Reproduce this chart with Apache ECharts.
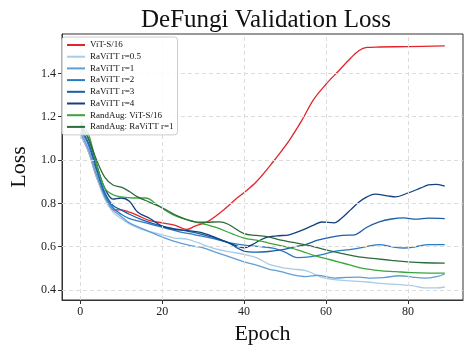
<!DOCTYPE html>
<html><head><meta charset="utf-8">
<script src="https://cdn.jsdelivr.net/npm/echarts@6/dist/echarts.min.js"></script>
<style>html,body{margin:0;padding:0;background:#fff}#c{width:474px;height:355px}</style>
</head><body><div id="c"></div>
<script>
const seriesNames = ['ViT-S/16','RaViTT r=0.5','RaViTT r=1','RaViTT r=2','RaViTT r=3','RaViTT r=4','RandAug: ViT-S/16','RandAug: RaViTT r=1'];
const xTicks = [0,20,40,60,80];
const yTicks = [0.4,0.6,0.8,1.0,1.2,1.4];

const vitEpochs = [0,2,4,6,8,10,12,14,17,20,23,26,28,31,35,38,40,43,47,51,54,57,60,63,66,68,70,73,80,89];
const vitLoss   = [1.12,1.04,0.92,0.83,0.77,0.77,0.76,0.745,0.72,0.71,0.70,0.68,0.695,0.715,0.77,0.82,0.85,0.90,0.99,1.09,1.18,1.28,1.35,1.41,1.47,1.505,1.52,1.522,1.524,1.527];

const r05Epochs = [0,2,4,6,8,10,12,15,18,20,23,26,30,33,37,40,43,46,49,52,55,57,59,62,66,70,74,78,81,84,87,89];
const r05Loss   = [1.12,1.04,0.92,0.82,0.76,0.73,0.705,0.68,0.665,0.655,0.64,0.635,0.61,0.59,0.575,0.565,0.55,0.52,0.505,0.497,0.49,0.475,0.458,0.448,0.442,0.437,0.43,0.425,0.42,0.41,0.41,0.414];

const r1Epochs = [0,2,4,6,8,10,12,15,18,20,23,27,30,33,37,40,43,46,49,52,55,58,62,65,68,71,74,78,81,84,87,89];
const r1Loss   = [1.13,1.05,0.93,0.83,0.77,0.74,0.71,0.685,0.66,0.645,0.625,0.605,0.595,0.575,0.55,0.53,0.515,0.497,0.485,0.47,0.462,0.468,0.455,0.458,0.46,0.455,0.457,0.466,0.46,0.455,0.462,0.474];

const r2Epochs = [0,2,4,6,8,10,12,15,18,21,24,28,32,36,40,44,47,50,53,56,59,62,65,68,71,73,76,79,82,85,89];
const r2Loss   = [1.14,1.07,0.95,0.84,0.78,0.75,0.73,0.715,0.70,0.685,0.67,0.655,0.64,0.62,0.607,0.60,0.594,0.575,0.55,0.553,0.563,0.578,0.585,0.593,0.605,0.61,0.60,0.594,0.60,0.61,0.61];

const r3Epochs = [0,2,4,6,8,10,12,15,18,21,24,28,32,36,40,43,46,49,52,55,58,61,64,67,70,73,76,79,82,85,89];
const r3Loss   = [1.15,1.08,0.96,0.85,0.79,0.77,0.75,0.725,0.705,0.69,0.68,0.665,0.645,0.62,0.58,0.575,0.578,0.585,0.598,0.61,0.63,0.643,0.652,0.655,0.69,0.715,0.728,0.733,0.727,0.732,0.73];

const r4Epochs = [0,2,4,6,8,10,12,14,17,20,23,26,30,34,38,40,42,45,48,51,54,57,59,62,64,66,68,70,72,75,77,80,83,85,87,89];
const r4Loss   = [1.16,1.10,0.98,0.87,0.82,0.825,0.81,0.76,0.73,0.695,0.68,0.675,0.663,0.635,0.605,0.595,0.61,0.64,0.65,0.655,0.675,0.70,0.714,0.71,0.735,0.77,0.805,0.83,0.843,0.835,0.83,0.848,0.87,0.885,0.888,0.88];

const raVitEpochs = [0,2,4,6,8,10,13,16,19,23,28,33,37,40,43,46,50,54,57,60,63,66,69,73,77,81,85,89];
const raVitLoss   = [1.18,1.12,0.98,0.87,0.84,0.83,0.825,0.825,0.79,0.745,0.715,0.69,0.66,0.64,0.63,0.617,0.60,0.58,0.56,0.545,0.53,0.515,0.50,0.49,0.485,0.48,0.478,0.478];

const raRavEpochs = [0,2,4,6,8,10,12,14,17,20,24,28,31,34,36,40,43,46,49,52,56,60,64,68,72,76,80,84,89];
const raRavLoss   = [1.17,1.10,1.00,0.92,0.885,0.875,0.855,0.83,0.805,0.78,0.74,0.715,0.713,0.715,0.705,0.66,0.652,0.645,0.63,0.62,0.605,0.585,0.568,0.553,0.545,0.537,0.53,0.526,0.524];

const allEpochs = [vitEpochs,r05Epochs,r1Epochs,r2Epochs,r3Epochs,r4Epochs,raVitEpochs,raRavEpochs];
const allLoss = [vitLoss,r05Loss,r1Loss,r2Loss,r3Loss,r4Loss,raVitLoss,raRavLoss];
const colors = ['#e3242b','#a8cbe6','#5f9ed6','#2b7bc0','#1d5ea8','#12417f','#3aa63a','#2f6b3c'];

const serif = '"Liberation Serif","DejaVu Serif",serif';
const chart = echarts.init(document.getElementById('c'), null, {renderer:'canvas'});

const series = seriesNames.map((n,i)=>({
  name:n, type:'line', smooth:0.35, symbol:'none', z:3,
  data: allEpochs[i].map((e,j)=>[e, allLoss[i][j]]),
  lineStyle:{color:colors[i], width:1.3}, itemStyle:{color:colors[i]}
}));
series.unshift({
  name:'grid', type:'line', data:[], z:1, silent:true,
  markLine:{silent:true, symbol:'none', label:{show:false}, animation:false,
    lineStyle:{type:[4,3], color:'#dcdcdc', width:1},
    data: xTicks.map(v=>({xAxis:v})).concat(yTicks.map(v=>({yAxis:v})))}
});

chart.setOption({
  animation:false,
  backgroundColor:'#fff',
  title:{text:'DeFungi Validation Loss', left:261, textAlign:'center', top:3,
    textStyle:{fontFamily:serif, fontSize:25, fontWeight:'normal', color:'#111'}},
  grid:{left:61, right:11, top:34, bottom:55, show:true, borderColor:'#333', borderWidth:1, backgroundColor:'transparent'},
  legend:{data:seriesNames, orient:'vertical', left:62, top:37, icon:'rect', itemWidth:18, itemHeight:2, itemGap:1.7,
    backgroundColor:'rgba(255,255,255,0.85)', borderColor:'#cccccc', borderWidth:1, borderRadius:3,
    padding:[3,4,3,5], z:10,
    textStyle:{fontFamily:serif, fontSize:9, color:'#111', lineHeight:10}},
  xAxis:{type:'value', min:-4.45, max:93.45, name:'Epoch', nameLocation:'middle', nameGap:22,
    nameTextStyle:{fontFamily:serif, fontSize:22, color:'#111'},
    axisLine:{show:true, onZero:false, lineStyle:{color:'#333'}},
    axisTick:{show:true, length:4, customValues:xTicks, lineStyle:{color:'#333'}},
    axisLabel:{customValues:xTicks, fontFamily:serif, fontSize:12, color:'#222', margin:6},
    splitLine:{show:false}},
  yAxis:{type:'value', min:0.354, max:1.582, name:'Loss', nameLocation:'middle', nameGap:32,
    nameTextStyle:{fontFamily:serif, fontSize:22, color:'#111'},
    axisLine:{show:true, onZero:false, lineStyle:{color:'#333'}},
    axisTick:{show:true, length:4, customValues:yTicks, lineStyle:{color:'#333'}},
    axisLabel:{customValues:yTicks, fontFamily:serif, fontSize:12, color:'#222', margin:6,
      formatter:v=>v.toFixed(1)},
    splitLine:{show:false}},
  series: series
});
</script></body></html>
